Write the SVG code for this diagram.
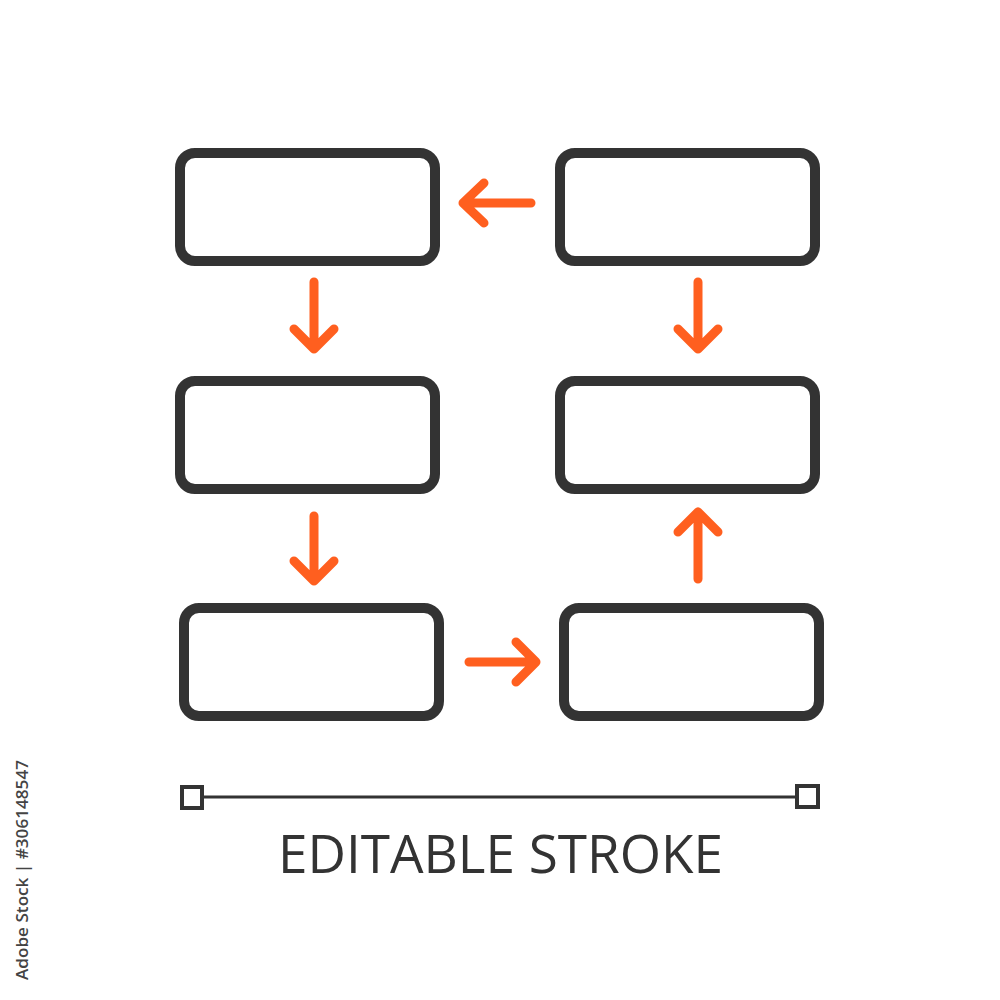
<svg xmlns="http://www.w3.org/2000/svg" width="1000" height="1000" viewBox="0 0 1000 1000">
<style>
.box{fill:#fff;stroke:#333333;stroke-width:10}
.arr{fill:none;stroke:#FF5F1F;stroke-width:9;stroke-linecap:round;stroke-linejoin:round}
.hdl{fill:#fff;stroke:#333333;stroke-width:4}
</style>
<rect width="1000" height="1000" fill="#ffffff"/>
<g id="node-top-left"><rect class="box" x="180" y="153" width="255" height="108" rx="15"/></g>
<g id="node-top-right"><rect class="box" x="560" y="153" width="255" height="108" rx="15"/></g>
<g id="node-mid-left"><rect class="box" x="180" y="381" width="255" height="108" rx="15"/></g>
<g id="node-mid-right"><rect class="box" x="560" y="381" width="255" height="108" rx="15"/></g>
<g id="node-bot-left"><rect class="box" x="184" y="608" width="255" height="108" rx="15"/></g>
<g id="node-bot-right"><rect class="box" x="564" y="608" width="255" height="108" rx="15"/></g>
<g id="connectors">
<path class="arr" d="M531 203H463M484 183L463 203L484 223"/>
<path class="arr" d="M314 282V349M294 329L314 349L334 329"/>
<path class="arr" d="M314 516V581M294 561L314 581L334 561"/>
<path class="arr" d="M698 282V349M678 329L698 349L718 329"/>
<path class="arr" d="M698 579V512M678 532L698 512L718 532"/>
<path class="arr" d="M469 662H536M516 642L536 662L516 682"/>
</g>
<g id="legend">
<line x1="202" y1="797" x2="797" y2="797" stroke="#333333" stroke-width="3"/>
<rect class="hdl" x="182" y="787" width="20" height="21"/>
<rect class="hdl" x="797" y="786" width="21" height="21"/>
<text x="278" y="873" font-family="'Open Sans', 'Liberation Sans', sans-serif" font-size="53" fill="#333333" textLength="445" lengthAdjust="spacingAndGlyphs">EDITABLE STROKE</text>
</g>
<text transform="translate(28 980) rotate(-90)" font-family="'Open Sans', 'Liberation Sans', sans-serif" font-size="17" font-weight="600" fill="#444444" textLength="220" lengthAdjust="spacingAndGlyphs">Adobe Stock | #306148547</text>
</svg>
